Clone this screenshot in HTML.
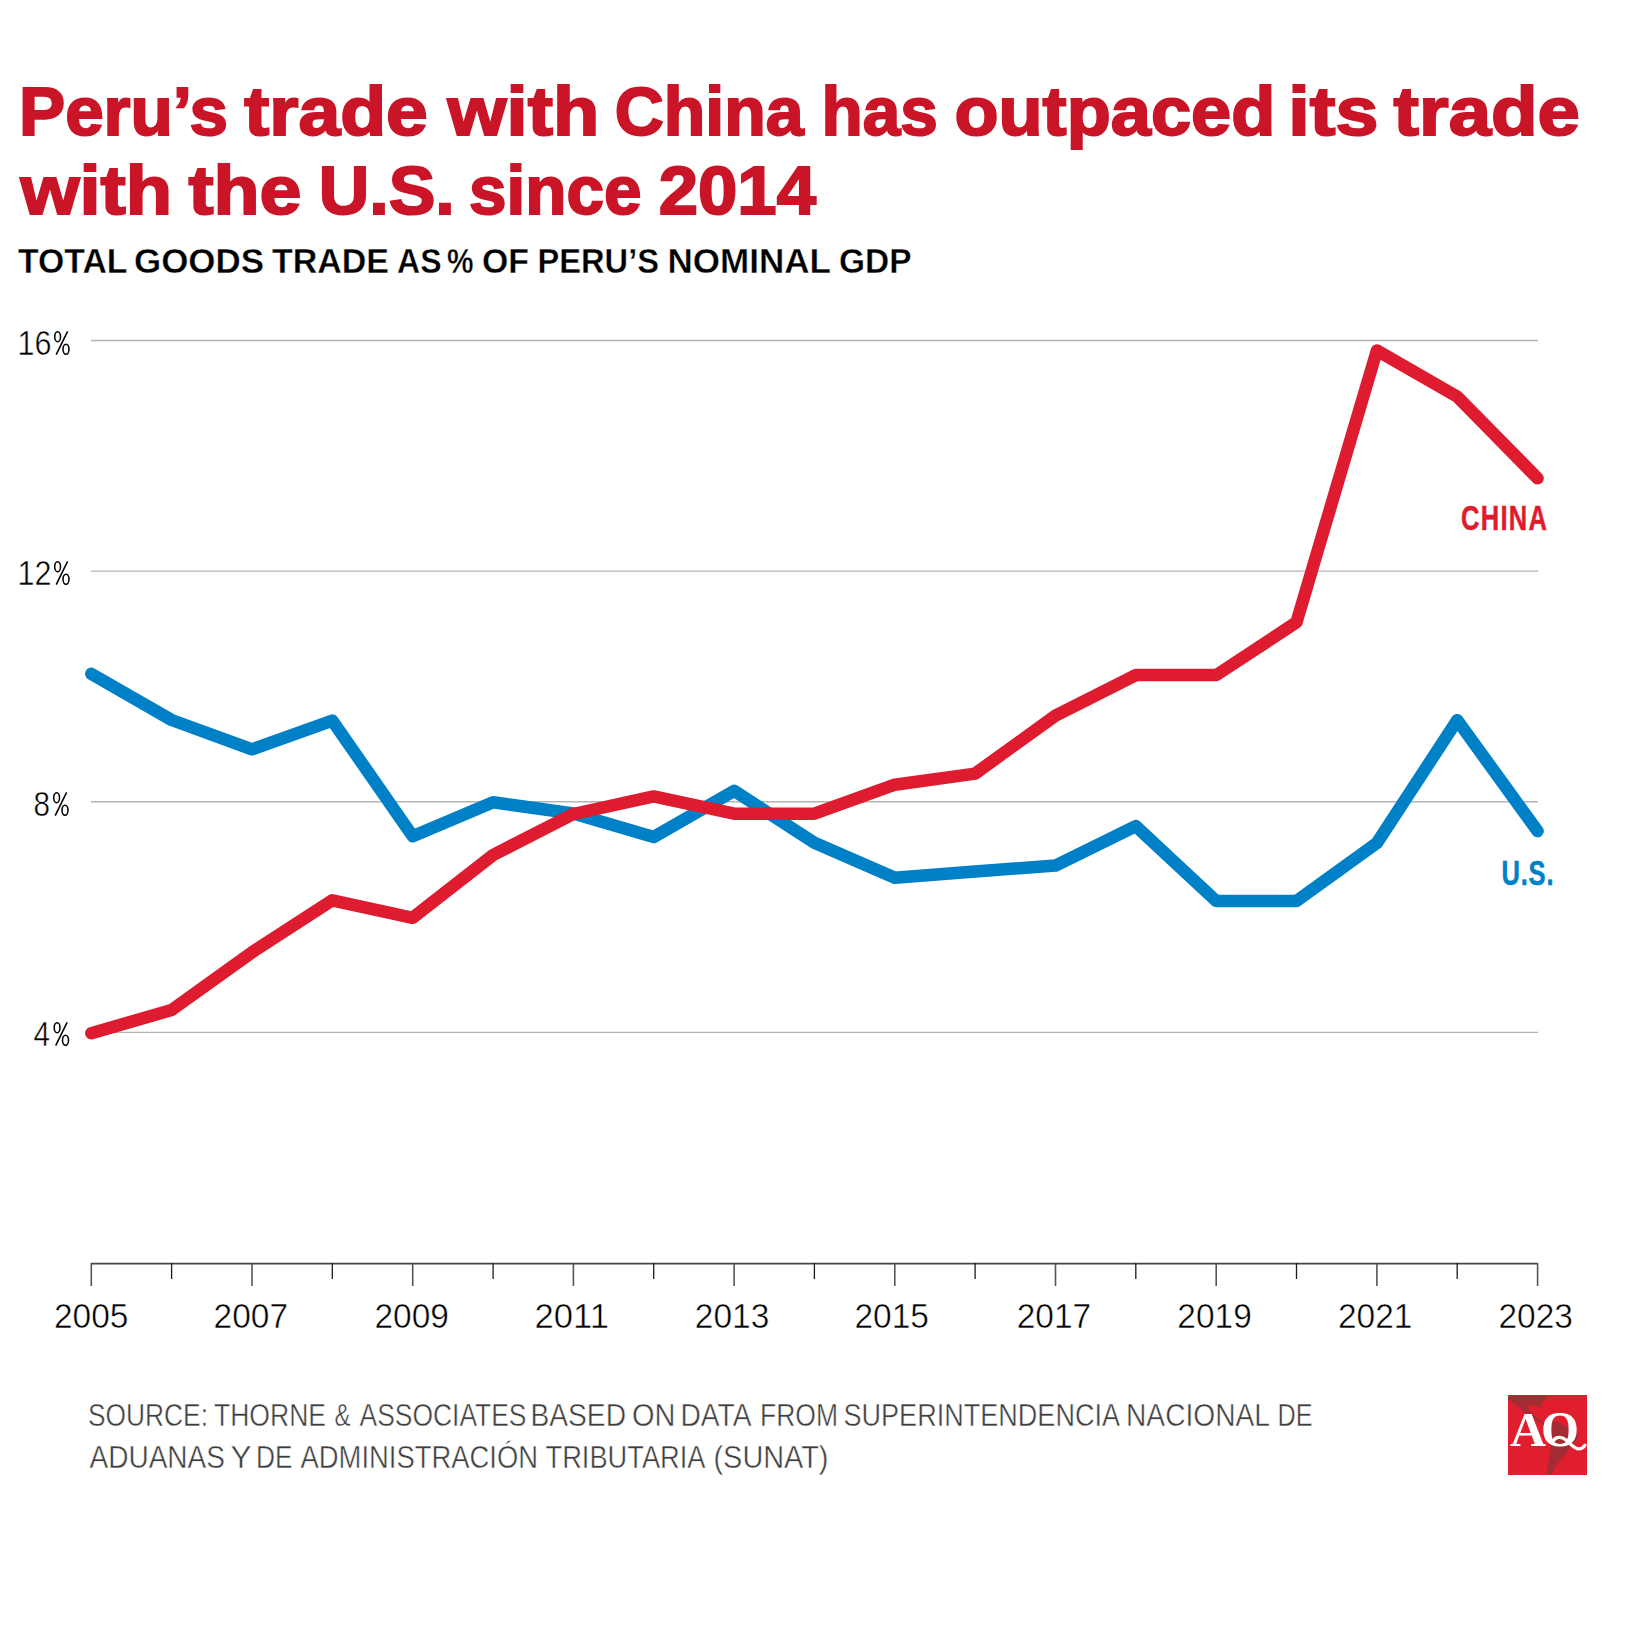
<!DOCTYPE html>
<html><head><meta charset="utf-8"><style>
html,body{margin:0;padding:0;background:#fff;width:1638px;height:1625px;overflow:hidden}
svg{display:block;position:absolute;left:0;top:0}
text{font-family:"Liberation Sans",sans-serif}
.serif{font-family:"Liberation Serif",serif}
</style></head><body>
<svg width="1638" height="1625" viewBox="0 0 1638 1625">
<g fill="#C91527" font-weight="bold" font-size="69" stroke="#C91527" stroke-width="2">
<text x="19.00" y="135.2" textLength="208.90" lengthAdjust="spacingAndGlyphs">Peru’s</text>
<text x="244.20" y="135.2" textLength="183.70" lengthAdjust="spacingAndGlyphs">trade</text>
<text x="447.60" y="135.2" textLength="151.60" lengthAdjust="spacingAndGlyphs">with</text>
<text x="614.70" y="135.2" textLength="188.90" lengthAdjust="spacingAndGlyphs">China</text>
<text x="821.60" y="135.2" textLength="116.30" lengthAdjust="spacingAndGlyphs">has</text>
<text x="954.40" y="135.2" textLength="320.90" lengthAdjust="spacingAndGlyphs">outpaced</text>
<text x="1288.30" y="135.2" textLength="90.10" lengthAdjust="spacingAndGlyphs">its</text>
<text x="1393.60" y="135.2" textLength="186.40" lengthAdjust="spacingAndGlyphs">trade</text>
<text x="20.50" y="214.3" textLength="151.70" lengthAdjust="spacingAndGlyphs">with</text>
<text x="188.50" y="214.3" textLength="113.00" lengthAdjust="spacingAndGlyphs">the</text>
<text x="318.80" y="214.3" textLength="136.00" lengthAdjust="spacingAndGlyphs">U.S.</text>
<text x="469.00" y="214.3" textLength="172.50" lengthAdjust="spacingAndGlyphs">since</text>
<text x="658.70" y="214.3" textLength="157.30" lengthAdjust="spacingAndGlyphs">2014</text>

</g>
<g fill="#000" stroke="#fff" stroke-width="0.35" font-weight="bold" font-size="35">
<text x="18.00" y="273.0" textLength="109.50" lengthAdjust="spacingAndGlyphs">TOTAL</text>
<text x="134.00" y="273.0" textLength="130.00" lengthAdjust="spacingAndGlyphs">GOODS</text>
<text x="272.00" y="273.0" textLength="117.00" lengthAdjust="spacingAndGlyphs">TRADE</text>
<text x="397.00" y="273.0" textLength="44.50" lengthAdjust="spacingAndGlyphs">AS</text>
<text x="447.00" y="273.0" textLength="26.50" lengthAdjust="spacingAndGlyphs">%</text>
<text x="482.00" y="273.0" textLength="47.00" lengthAdjust="spacingAndGlyphs">OF</text>
<text x="537.50" y="273.0" textLength="121.50" lengthAdjust="spacingAndGlyphs">PERU’S</text>
<text x="667.50" y="273.0" textLength="163.50" lengthAdjust="spacingAndGlyphs">NOMINAL</text>
<text x="839.00" y="273.0" textLength="72.50" lengthAdjust="spacingAndGlyphs">GDP</text>
</g>
<g stroke="#B4B4B4" stroke-width="1.4">
<line x1="91" y1="340.5" x2="1538" y2="340.5"/>
<line x1="91" y1="571.1" x2="1538" y2="571.1"/>
<line x1="91" y1="801.8" x2="1538" y2="801.8"/>
<line x1="91" y1="1032.4" x2="1538" y2="1032.4"/>
</g>
<g fill="#000" font-size="34.5" stroke="#fff" stroke-width="0.5">
<text x="17.5" y="355.0" textLength="34.0" lengthAdjust="spacingAndGlyphs">16</text><text x="17.5" y="585.0" textLength="34.0" lengthAdjust="spacingAndGlyphs">12</text><text x="33.5" y="816.0" textLength="16.5" lengthAdjust="spacingAndGlyphs">8</text><text x="33.5" y="1046.0" textLength="16.5" lengthAdjust="spacingAndGlyphs">4</text>
</g>
<g fill="none" stroke="#000" stroke-width="1.55">
<ellipse cx="57.60" cy="336.70" rx="2.9" ry="5.0"/><ellipse cx="66.00" cy="349.20" rx="3.0" ry="5.0"/><line x1="67.60" y1="331.30" x2="56.20" y2="354.60"/><ellipse cx="57.60" cy="566.70" rx="2.9" ry="5.0"/><ellipse cx="66.00" cy="579.20" rx="3.0" ry="5.0"/><line x1="67.60" y1="561.30" x2="56.20" y2="584.60"/><ellipse cx="56.60" cy="797.70" rx="2.9" ry="5.0"/><ellipse cx="65.00" cy="810.20" rx="3.0" ry="5.0"/><line x1="66.60" y1="792.30" x2="55.20" y2="815.60"/><ellipse cx="57.10" cy="1027.70" rx="2.9" ry="5.0"/><ellipse cx="65.50" cy="1040.20" rx="3.0" ry="5.0"/><line x1="67.10" y1="1022.30" x2="55.70" y2="1045.60"/>
</g>
<g stroke="#444" stroke-width="1.8">
<line x1="91.3" y1="1263.6" x2="1537.6" y2="1263.6"/>
<line x1="91.3" y1="1263" x2="91.3" y2="1286.0" stroke="#555" stroke-width="1.6"/><line x1="171.6" y1="1263" x2="171.6" y2="1279.0" stroke="#1a1a1a" stroke-width="1.3"/><line x1="252.0" y1="1263" x2="252.0" y2="1286.0" stroke="#555" stroke-width="1.6"/><line x1="332.3" y1="1263" x2="332.3" y2="1279.0" stroke="#1a1a1a" stroke-width="1.3"/><line x1="412.7" y1="1263" x2="412.7" y2="1286.0" stroke="#555" stroke-width="1.6"/><line x1="493.1" y1="1263" x2="493.1" y2="1279.0" stroke="#1a1a1a" stroke-width="1.3"/><line x1="573.4" y1="1263" x2="573.4" y2="1286.0" stroke="#555" stroke-width="1.6"/><line x1="653.7" y1="1263" x2="653.7" y2="1279.0" stroke="#1a1a1a" stroke-width="1.3"/><line x1="734.1" y1="1263" x2="734.1" y2="1286.0" stroke="#555" stroke-width="1.6"/><line x1="814.4" y1="1263" x2="814.4" y2="1279.0" stroke="#1a1a1a" stroke-width="1.3"/><line x1="894.8" y1="1263" x2="894.8" y2="1286.0" stroke="#555" stroke-width="1.6"/><line x1="975.1" y1="1263" x2="975.1" y2="1279.0" stroke="#1a1a1a" stroke-width="1.3"/><line x1="1055.5" y1="1263" x2="1055.5" y2="1286.0" stroke="#555" stroke-width="1.6"/><line x1="1135.8" y1="1263" x2="1135.8" y2="1279.0" stroke="#1a1a1a" stroke-width="1.3"/><line x1="1216.2" y1="1263" x2="1216.2" y2="1286.0" stroke="#555" stroke-width="1.6"/><line x1="1296.5" y1="1263" x2="1296.5" y2="1279.0" stroke="#1a1a1a" stroke-width="1.3"/><line x1="1376.9" y1="1263" x2="1376.9" y2="1286.0" stroke="#555" stroke-width="1.6"/><line x1="1457.2" y1="1263" x2="1457.2" y2="1279.0" stroke="#1a1a1a" stroke-width="1.3"/><line x1="1537.6" y1="1263" x2="1537.6" y2="1286.0" stroke="#555" stroke-width="1.6"/>
</g>
<g fill="#000" font-size="34.5" stroke="#fff" stroke-width="0.5">
<text x="54.0" y="1328" textLength="74.5" lengthAdjust="spacingAndGlyphs">2005</text><text x="213.6" y="1328" textLength="74.5" lengthAdjust="spacingAndGlyphs">2007</text><text x="374.4" y="1328" textLength="74.5" lengthAdjust="spacingAndGlyphs">2009</text><text x="534.5" y="1328" textLength="74.5" lengthAdjust="spacingAndGlyphs">2011</text><text x="694.8" y="1328" textLength="74.5" lengthAdjust="spacingAndGlyphs">2013</text><text x="854.5" y="1328" textLength="74.5" lengthAdjust="spacingAndGlyphs">2015</text><text x="1016.7" y="1328" textLength="74.5" lengthAdjust="spacingAndGlyphs">2017</text><text x="1177.3" y="1328" textLength="74.5" lengthAdjust="spacingAndGlyphs">2019</text><text x="1338.0" y="1328" textLength="74.5" lengthAdjust="spacingAndGlyphs">2021</text><text x="1498.5" y="1328" textLength="74.5" lengthAdjust="spacingAndGlyphs">2023</text>
</g>
<g fill="none" stroke-width="12.5" stroke-linecap="round" stroke-linejoin="round">
<polyline stroke="#0080C6" points="91.3,673.8 171.6,720.0 252.0,749.3 332.3,720.6 412.7,836.2 493.1,802.3 573.4,813.5 653.7,837.0 734.1,790.8 814.4,842.8 894.8,877.8 975.1,871.4 1055.5,865.6 1135.8,826.2 1216.2,901.0 1296.5,901.0 1376.9,843.0 1457.2,720.2 1537.6,831.1"/>
<polyline stroke="#DF1C2F" points="91.3,1033.2 171.6,1010.0 252.0,952.3 332.3,900.3 412.7,917.8 493.1,855.0 573.4,814.0 653.7,796.4 734.1,813.7 814.4,813.7 894.8,784.7 975.1,773.6 1055.5,715.6 1135.8,675.1 1216.2,675.1 1296.5,622.3 1376.9,350.5 1457.2,396.6 1537.6,478.3"/>
</g>
<text transform="translate(1461,530) scale(0.72,1)" fill="#DF1C2F" stroke="#DF1C2F" stroke-width="0.5" font-weight="bold" font-size="35.5" textLength="119.4" lengthAdjust="spacing">CHINA</text>
<text transform="translate(1501.5,885) scale(0.72,1)" fill="#0080C6" stroke="#0080C6" stroke-width="0.5" font-weight="bold" font-size="35.5" textLength="72.2" lengthAdjust="spacing">U.S.</text>
<g fill="#3E3E3E" font-size="31" stroke="#fff" stroke-width="0.45">
<text x="88.00" y="1426.3" textLength="120.00" lengthAdjust="spacingAndGlyphs">SOURCE:</text>
<text x="214.00" y="1426.3" textLength="112.00" lengthAdjust="spacingAndGlyphs">THORNE</text>
<text x="334.50" y="1426.3" textLength="16.00" lengthAdjust="spacingAndGlyphs">&amp;</text>
<text x="359.50" y="1426.3" textLength="167.00" lengthAdjust="spacingAndGlyphs">ASSOCIATES</text>
<text x="530.50" y="1426.3" textLength="95.50" lengthAdjust="spacingAndGlyphs">BASED</text>
<text x="632.00" y="1426.3" textLength="43.50" lengthAdjust="spacingAndGlyphs">ON</text>
<text x="680.50" y="1426.3" textLength="71.00" lengthAdjust="spacingAndGlyphs">DATA</text>
<text x="760.00" y="1426.3" textLength="78.00" lengthAdjust="spacingAndGlyphs">FROM</text>
<text x="843.50" y="1426.3" textLength="276.50" lengthAdjust="spacingAndGlyphs">SUPERINTENDENCIA</text>
<text x="1126.00" y="1426.3" textLength="144.00" lengthAdjust="spacingAndGlyphs">NACIONAL</text>
<text x="1277.50" y="1426.3" textLength="35.00" lengthAdjust="spacingAndGlyphs">DE</text>
<text x="89.50" y="1468.3" textLength="135.50" lengthAdjust="spacingAndGlyphs">ADUANAS</text>
<text x="230.50" y="1468.3" textLength="21.00" lengthAdjust="spacingAndGlyphs">Y</text>
<text x="256.00" y="1468.3" textLength="36.50" lengthAdjust="spacingAndGlyphs">DE</text>
<text x="300.50" y="1468.3" textLength="237.50" lengthAdjust="spacingAndGlyphs">ADMINISTRACIÓN</text>
<text x="545.50" y="1468.3" textLength="160.00" lengthAdjust="spacingAndGlyphs">TRIBUTARIA</text>
<text x="713.50" y="1468.3" textLength="115.00" lengthAdjust="spacingAndGlyphs">(SUNAT)</text>
</g>
<g>
<rect x="1508" y="1395" width="79" height="80" fill="#E01E2E"/>
<g transform="translate(1490,1380) scale(0.07326)" fill="#A52B34">
<path d="M250,215 L775,215 L765,250 L720,300 L700,360 L705,390 L660,370 L600,345 L545,350 L520,380 L545,430 L590,470 L630,510 L690,545 L740,590 L720,610 L650,560 L570,500 L480,440 L400,380 L320,310 L250,270 Z"/>
<path d="M850,560 L920,570 L1000,610 L1060,650 L1120,700 L1200,735 L1210,770 L1180,830 L1130,880 L1070,960 L1040,1010 L980,1070 L940,1120 L900,1170 L870,1230 L840,1295 L775,1295 L780,1200 L800,1100 L820,1000 L830,920 L810,840 L800,760 L810,680 L830,600 Z"/>
</g>
<text x="1510" y="1446" fill="#fff" class="serif" font-weight="bold" font-size="48" textLength="36" lengthAdjust="spacingAndGlyphs">A</text>
<text x="1541" y="1446.3" fill="#fff" class="serif" font-weight="bold" font-size="51.5" textLength="38" lengthAdjust="spacingAndGlyphs">O</text>
<path transform="translate(1530,1400) scale(0.03693)" fill="none" stroke="#fff" stroke-width="85" stroke-linecap="round" d="M 640,1100 C 700,990 850,985 975,1080 C 1090,1170 1190,1320 1320,1325 C 1400,1328 1450,1280 1490,1225"/>
</g>
</svg>
</body></html>
